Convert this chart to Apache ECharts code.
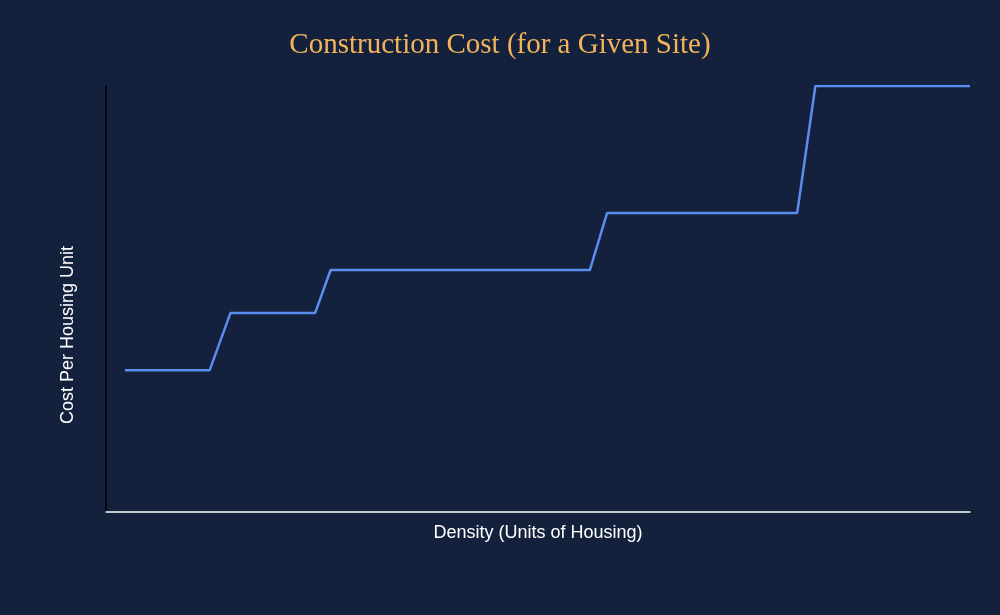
<!DOCTYPE html>
<html><head><meta charset="utf-8">
<script src="https://cdn.jsdelivr.net/npm/echarts@6/dist/echarts.min.js"></script>
<style>html,body{margin:0;background:#13213d}#c{width:1000px;height:615px}</style>
</head><body><div id="c"></div>
<script>
const densityX = [2.2, 12.0, 14.4, 24.2, 26.0, 56.0, 58.0, 80.0, 82.1, 100];
const costY = [33.3, 33.3, 46.7, 46.7, 56.8, 56.8, 70.2, 70.2, 100, 100];
const chart = echarts.init(document.getElementById('c'));
chart.setOption({
  backgroundColor: '#13213d',
  title: {text: 'Construction Cost (for a Given Site)', left: 'center', top: 26,
    textStyle: {color: '#f2b35b', fontFamily: 'Liberation Serif, serif', fontWeight: 'normal', fontSize: 29}},
  grid: {left: 106, right: 30, top: 86, bottom: 103},
  graphic: [{type: 'text', x: 68, y: 335, rotation: Math.PI / 2,
    style: {text: 'Cost Per Housing Unit', fill: '#fff', fontSize: 18, fontFamily: 'Liberation Sans, sans-serif',
      align: 'center', verticalAlign: 'middle'}}],
  xAxis: {type: 'value', min: 0, max: 100, name: 'Density (Units of Housing)', nameLocation: 'middle', nameGap: 12,
    nameTextStyle: {color: '#fff', fontSize: 18, fontFamily: 'Liberation Sans, sans-serif'},
    axisLine: {lineStyle: {color: '#fff', width: 1.5}}, axisTick: {show: false}, axisLabel: {show: false}, splitLine: {show: false}},
  yAxis: {type: 'value', min: 0, max: 100,
    axisLine: {show: true, lineStyle: {color: '#000', width: 1.5}}, axisTick: {show: false}, axisLabel: {show: false}, splitLine: {show: false}},
  series: [{type: 'line', data: densityX.map((x, i) => [x, costY[i]]), symbol: 'none',
    lineStyle: {color: '#5b8def', width: 2.5}}]
});
</script></body></html>
